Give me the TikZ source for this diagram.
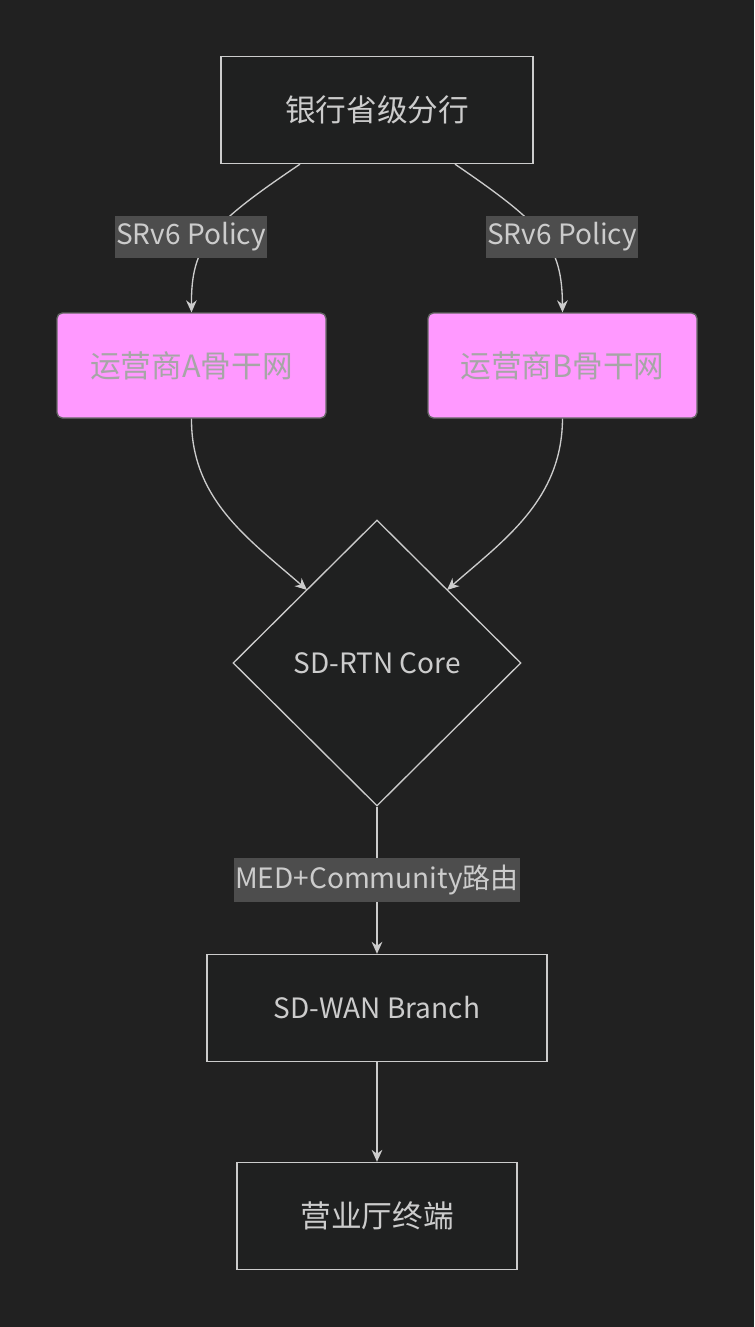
\documentclass[tikz,border=0pt]{standalone}
\usepackage{fontspec}
\setmainfont{Noto Sans CJK SC}
\usetikzlibrary{shapes.geometric,arrows.meta}
\definecolor{bg}{HTML}{212121}
\definecolor{nodefill}{HTML}{1F2020}
\definecolor{ln}{HTML}{CCCCCC}
\definecolor{pinkf}{HTML}{FF99FF}
\definecolor{lblbg}{HTML}{4D4D4D}
\definecolor{txt}{HTML}{CCCCCC}
\begin{document}
\begin{tikzpicture}[x=0.75pt,y=-0.75pt,
  box/.style={draw=ln,fill=nodefill,line width=1pt,text=txt,font=\fontsize{23}{26}\selectfont,inner sep=0pt},
  pbox/.style={draw=black!60,fill=pinkf,rounded corners=4pt,line width=1pt,text=black!35,font=\fontsize{23}{26}\selectfont,inner sep=0pt,minimum width=269*0.75pt,minimum height=105*0.75pt},
  lbl/.style={fill=lblbg,text=txt,font=\fontsize{21}{24}\selectfont,inner xsep=1pt,inner ysep=5pt},
  edge/.style={draw=ln,line width=1pt,-{Stealth[length=9pt,width=8pt]}}]
\fill[bg] (0,0) rectangle (754,1327);
\useasboundingbox (0,0) rectangle (754,1327);
\node[box,minimum width=312*0.75pt,minimum height=107*0.75pt] (top) at (377,110) {银行省级分行};
\node[pbox] (A) at (191.5,365.5) {运营商A骨干网};
\node[pbox] (B) at (562.5,365.5) {运营商B骨干网};
\node[box,diamond,minimum width=288*0.75pt,minimum height=286*0.75pt,font=\fontsize{21}{24}\selectfont] (core) at (377,663) {SD-RTN Core};
\node[box,minimum width=340*0.75pt,minimum height=107*0.75pt,font=\fontsize{21}{24}\selectfont] (wan) at (377,1008) {SD-WAN Branch};
\node[box,minimum width=280*0.75pt,minimum height=107*0.75pt] (end) at (377,1216) {营业厅终端};
\draw[edge] ([xshift=-77*0.75pt]top.south) .. controls (210,225) and (191,245) .. (A.north);
\draw[edge] ([xshift=78*0.75pt]top.south) .. controls (544,225) and (562,245) .. (B.north);
\node[lbl] (l1) at (191,237) {SRv6 Policy};
\node[lbl] (l2) at (562,237) {SRv6 Policy};
\draw[edge] (A.south) .. controls (191,500) and (250,540) .. (307,590);
\draw[edge] (B.south) .. controls (562,500) and (504,540) .. (447,590);
\draw[edge] (core.south) -- (wan.north);
\node[lbl] (l3) at (377,880) {MED+Community路由};
\draw[edge] (wan.south) -- (end.north);
\end{tikzpicture}
\end{document}
